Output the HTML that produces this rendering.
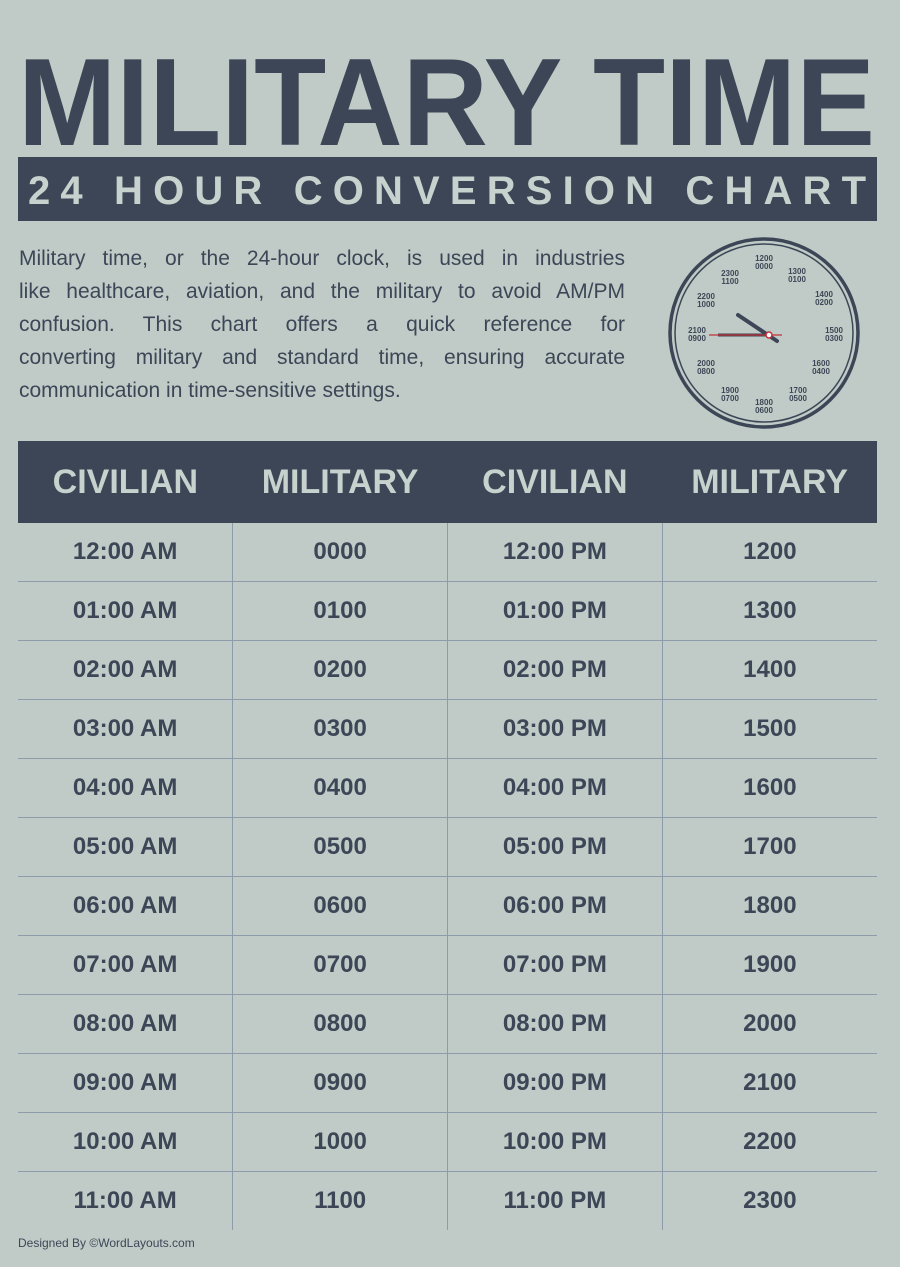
<!DOCTYPE html>
<html><head><meta charset="utf-8"><style>
body{margin:0;width:900px;height:1267px;background:#c0cbc7;font-family:"Liberation Sans",sans-serif;position:relative;overflow:hidden;color:#3d4656}
.p{position:absolute;left:19px;top:242px;width:606px;font-size:21px;line-height:33px;color:#3d4656}
.p div{text-align:justify;text-align-last:justify;white-space:nowrap}
.p div.l{text-align-last:left}
table{position:absolute;left:18px;top:441px;width:859px;border-collapse:collapse;table-layout:fixed}
th{background:#3d4656;color:#c7d1cd;height:82px;font-size:34px;font-weight:bold;padding:0}
td{height:58px;text-align:center;font-size:24px;font-weight:bold;color:#3d4656;border-bottom:1.5px solid #8e9bab;border-left:1.5px solid #8e9bab;padding:0}
td:first-child{border-left:none}
tr:last-child td{border-bottom:none}
.f{position:absolute;left:18px;top:1236px;font-size:12px;color:#3d4656}
</style></head><body>
<svg width="900" height="230" style="position:absolute;left:0;top:0">
<text x="18" y="145" font-family="Liberation Sans" font-weight="bold" font-size="124" fill="#3d4656" textLength="857" lengthAdjust="spacingAndGlyphs">MILITARY TIME</text>
<rect x="18" y="157" width="859" height="64" fill="#3d4656"/>
<text x="28" y="204" font-family="Liberation Sans" font-weight="bold" font-size="40" fill="#c7d1cd" textLength="838" lengthAdjust="spacing">24 HOUR CONVERSION CHART</text>
</svg>
<div class="p">
<div>Military time, or the 24-hour clock, is used in industries</div>
<div>like healthcare, aviation, and the military to avoid AM/PM</div>
<div>confusion. This chart offers a quick reference for</div>
<div>converting military and standard time, ensuring accurate</div>
<div class="l">communication in time-sensitive settings.</div>
</div>
<svg width="200" height="200" style="position:absolute;top:233px;left:664px" viewBox="0 0 200 200">
<circle cx="100" cy="100" r="94" fill="none" stroke="#3d4656" stroke-width="3.5"/>
<circle cx="100" cy="100" r="89" fill="none" stroke="#3d4656" stroke-width="1.5"/>
<g font-family="Liberation Sans" font-weight="bold" font-size="8" fill="#3d4656" text-anchor="middle">
<text x="100" y="28">1200</text><text x="100" y="36">0000</text>
<text x="133" y="41">1300</text><text x="133" y="49">0100</text>
<text x="160" y="64">1400</text><text x="160" y="72">0200</text>
<text x="170" y="100">1500</text><text x="170" y="108">0300</text>
<text x="157" y="133">1600</text><text x="157" y="141">0400</text>
<text x="134" y="160">1700</text><text x="134" y="168">0500</text>
<text x="100" y="172">1800</text><text x="100" y="180">0600</text>
<text x="66" y="160">1900</text><text x="66" y="168">0700</text>
<text x="42" y="133">2000</text><text x="42" y="141">0800</text>
<text x="33" y="100">2100</text><text x="33" y="108">0900</text>
<text x="42" y="66">2200</text><text x="42" y="74">1000</text>
<text x="66" y="43">2300</text><text x="66" y="51">1100</text>
</g>
<line x1="74" y1="82" x2="113" y2="108" stroke="#3d4656" stroke-width="4" stroke-linecap="round"/>
<line x1="54" y1="102" x2="106" y2="102" stroke="#3d4656" stroke-width="3"/>
<line x1="45" y1="102" x2="118" y2="102" stroke="#c0303a" stroke-width="1.2"/>
<circle cx="105" cy="102" r="3" fill="#fff" stroke="#c0303a" stroke-width="1.5"/>
</svg>
<table>
<tr><th>CIVILIAN</th><th>MILITARY</th><th>CIVILIAN</th><th>MILITARY</th></tr>
<tr><td>12:00 AM</td><td>0000</td><td>12:00 PM</td><td>1200</td></tr>
<tr><td>01:00 AM</td><td>0100</td><td>01:00 PM</td><td>1300</td></tr>
<tr><td>02:00 AM</td><td>0200</td><td>02:00 PM</td><td>1400</td></tr>
<tr><td>03:00 AM</td><td>0300</td><td>03:00 PM</td><td>1500</td></tr>
<tr><td>04:00 AM</td><td>0400</td><td>04:00 PM</td><td>1600</td></tr>
<tr><td>05:00 AM</td><td>0500</td><td>05:00 PM</td><td>1700</td></tr>
<tr><td>06:00 AM</td><td>0600</td><td>06:00 PM</td><td>1800</td></tr>
<tr><td>07:00 AM</td><td>0700</td><td>07:00 PM</td><td>1900</td></tr>
<tr><td>08:00 AM</td><td>0800</td><td>08:00 PM</td><td>2000</td></tr>
<tr><td>09:00 AM</td><td>0900</td><td>09:00 PM</td><td>2100</td></tr>
<tr><td>10:00 AM</td><td>1000</td><td>10:00 PM</td><td>2200</td></tr>
<tr><td>11:00 AM</td><td>1100</td><td>11:00 PM</td><td>2300</td></tr>
</table>
<div class="f">Designed By ©WordLayouts.com</div>
</body></html>
